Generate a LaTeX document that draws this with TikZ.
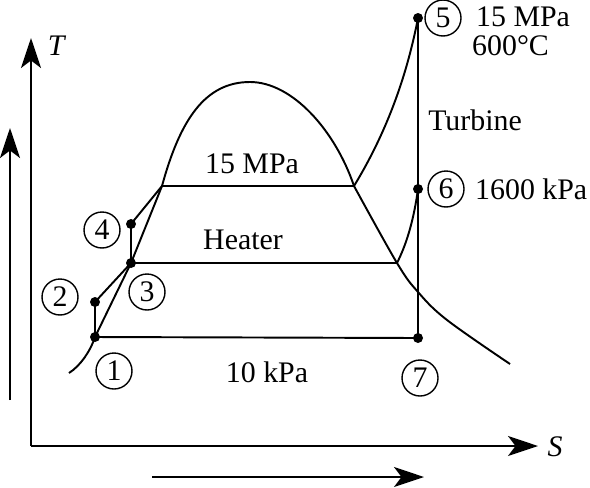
\documentclass[tikz,border=0pt]{standalone}
\usepackage{fontspec}
\setmainfont{Liberation Serif}
\usetikzlibrary{arrows.meta}

\tikzset{
  pt/.style={circle, fill, inner sep=0pt, minimum size=0.2cm},
  tag/.style={circle, draw, line width=0.8pt, inner sep=0pt, minimum size=0.72cm},
  curve/.style={line width=1.1pt},
  axis/.style={line width=1.2pt, -{Stealth[length=0.6cm, width=0.4cm, inset=0.15cm]}}
}

\begin{document}
\begin{tikzpicture}[x=0.02cm, y=-0.02cm, font=\fontsize{17}{20}\selectfont]
    \useasboundingbox (0,0) rectangle (590,487);

    % Axes
    \coordinate (o) at (31,446);
    \coordinate (ttip) at (31,38);
    \coordinate (stip) at (538,446);
    \draw[axis] (o) -- (ttip);
    \draw[axis] (o) -- (stip);
    \node (tlab) at (57,46) {\textit{T}};
    \node (slab) at (555,447) {\textit{S}};

    % Direction arrows
    \coordinate (upfrom) at (10,400);
    \coordinate (upto) at (10,128);
    \draw[axis] (upfrom) -- (upto);
    \coordinate (rtfrom) at (152,477);
    \coordinate (rtto) at (424,477);
    \draw[axis] (rtfrom) -- (rtto);

    % State points
    \node[pt] (p1) at (95,337) {};
    \node[pt] (p2) at (95,302) {};
    \node[pt] (p3) at (131,263) {};
    \node[pt] (p4) at (131,224) {};
    \node[pt] (p5) at (418,18) {};
    \node[pt] (p6) at (418,189) {};
    \node[pt] (p7) at (418,338) {};

    % Saturation dome
    \coordinate (sl) at (162,186);
    \coordinate (top) at (250,82);
    \coordinate (sv) at (354,186);
    \coordinate (hv) at (397,263);
    \coordinate (tail) at (69,373);
    \draw[curve] (tail) .. controls (80,366) and (90,352) .. (p1.center);
    \draw[curve] (p1.center) -- (p3.center) -- (sl);
    \draw[curve] (sl) .. controls (180,120) and (205,82) .. (top)
        .. controls (292,82) and (335,130) .. (sv);
    \draw[curve] plot[smooth, tension=0.6] coordinates
        {(354,186) (397,263) (418,292) (447,320) (510,364)};

    % Cycle lines
    \draw[curve] (p1.center) -- (p2.center) -- (p3.center) -- (p4.center) -- (sl);
    \draw[curve] (sl) -- (sv);
    \draw[curve] (p3.center) -- (hv);
    \draw[curve] (p1.center) -- (p7.center);
    \draw[curve] (sv) .. controls (385,135) and (406,80) .. (p5.center);
    \draw[curve] (p5.center) -- (p6.center) -- (p7.center);
    \draw[curve] (p6.center) .. controls (413,225) and (405,247) .. (hv);

    % Point tags
    \node[tag] (t1) at (114,371) {1};
    \node[tag] (t2) at (60,297) {2};
    \node[tag] (t3) at (147,292) {3};
    \node[tag] (t4) at (102,230) {4};
    \node[tag] (t5) at (443,18) {5};
    \node[tag] (t6) at (446,189) {6};
    \node[tag] (t7) at (420,378) {7};

    % Labels
    \node (hp) at (252,164) {15 MPa};
    \node (heater) at (243,240) {Heater};
    \node (lp) at (267,372) {10 kPa};
    \node (turb) at (475,120) {Turbine};
    \node[anchor=west] (p5a) at (470,17) {15 MPa};
    \node[anchor=west] (p5b) at (466,46) {600°C};
    \node[anchor=west] (p6a) at (469,189) {1600 kPa};

\end{tikzpicture}
\end{document}
